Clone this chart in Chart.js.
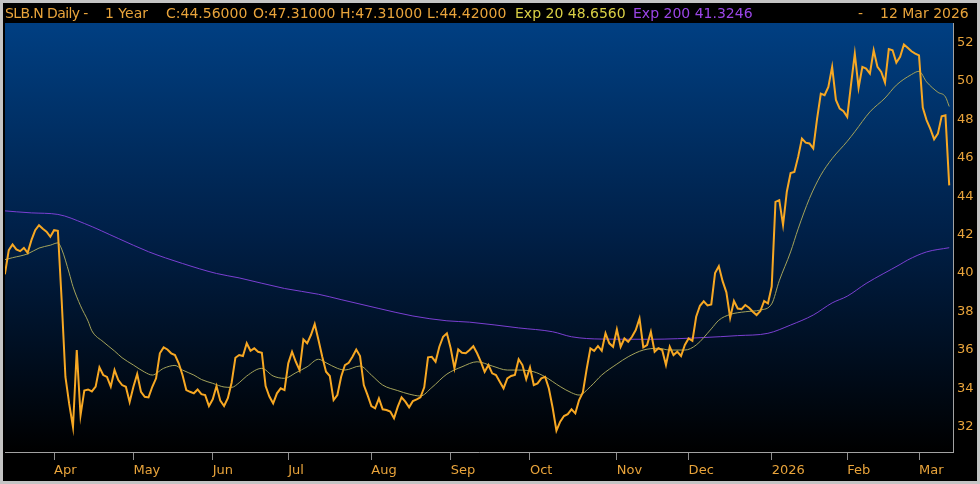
<!DOCTYPE html>
<html>
<head>
<meta charset="utf-8">
<script src="https://cdn.jsdelivr.net/npm/chart.js@4.4.1/dist/chart.umd.min.js"></script>
<style>
  html, body { margin: 0; padding: 0; background: #000; }
  #wrap { position: relative; width: 980px; height: 484px; background: #000; overflow: hidden; }
  #frame { position: absolute; left: 0; top: 0; width: 980px; height: 484px; box-sizing: border-box;
           border: 3px solid #c4c4c4; pointer-events: none; }
  #head { position: absolute; top: 4px; left: 0; width: 980px; height: 19px;
          font: 14px "DejaVu Sans", sans-serif; line-height: 19px; white-space: pre; }
  #head span { position: absolute; top: 0; }
  #head span.tight { letter-spacing: -0.6px; }
  .o { color: #e9a43b; }
  .e20 { color: #d9cf45; }
  .e200 { color: #9a45e6; }
</style>
</head>
<body>
<div id="wrap">
  <canvas id="myChart" width="980" height="484"></canvas>
  <div id="head">
    <span class="o tight" style="left:5px">SLB.N Daily -</span>
    <span class="o" style="left:105px">1 Year</span>
    <span class="o" style="left:166px">C:44.56000</span>
    <span class="o" style="left:253px">O:47.31000</span>
    <span class="o" style="left:340px">H:47.31000</span>
    <span class="o" style="left:427px">L:44.42000</span>
    <span class="e20" style="left:515px">Exp 20 48.6560</span>
    <span class="e200" style="left:633px">Exp 200 41.3246</span>
    <span class="o" style="left:858px">-</span>
    <span class="o" style="left:880px">12 Mar 2026</span>
  </div>
  <div id="frame"></div>
</div>
<script>
// daily closes, one per trading day, 12 Mar 2025 .. 12 Mar 2026
const closes = [
  39.8, 39.98, 41.19, 41.49, 41.23, 41.14, 41.31, 41.05, 41.71, 42.23, 42.49, 42.3, 42.15, 41.89,
  42.23, 42.2, 38.6, 34.6, 33.2, 32.0, 36.0, 32.6, 33.9, 33.95, 33.85, 34.1, 35.1, 34.7, 34.6, 34.1,
  34.96, 34.44, 34.18, 34.09, 33.3,
  34.09, 34.75, 33.83, 33.57, 33.54, 34.09, 34.53, 35.83, 36.14, 36.03, 35.83, 35.74, 35.31, 34.7,
  33.92, 33.83, 33.75, 33.95, 33.71, 33.66, 33.09,
  33.44, 34.13, 33.37, 33.09, 33.5, 34.3, 35.6, 35.74, 35.69, 36.35, 35.96, 36.09, 35.91, 35.86,
  34.13, 33.58, 33.23, 33.75, 34.01, 33.92,
  35.31, 35.91, 35.39, 34.96, 36.55, 36.35, 36.78, 37.35, 36.52, 35.65, 34.87, 34.65, 33.4, 33.66,
  34.61, 35.22, 35.34, 35.65, 36.03, 35.69, 34.18, 33.66,
  33.09, 32.97, 33.49, 32.92, 32.88, 32.8, 32.45, 33.06, 33.54, 33.32, 33.02, 33.35, 33.44, 33.54,
  34.06, 35.62, 35.65, 35.39, 36.17, 36.69, 36.87,
  36.09, 35.05, 36.03, 35.86, 35.83, 36.0, 36.2, 35.83, 35.39, 34.87, 35.22, 34.79, 34.7, 34.35,
  34.01, 34.53, 34.65, 34.7, 35.52, 35.22, 34.48,
  35.1, 34.18, 34.27, 34.53, 34.61, 34.0, 33.0, 31.81, 32.28, 32.57, 32.67, 32.92, 32.71, 33.4,
  33.8, 35.0, 36.09, 35.96, 36.21, 35.96, 36.87, 36.35, 36.17,
  37.07, 36.17, 36.6, 36.43, 36.69, 37.04, 37.64, 36.14, 36.26, 36.95, 35.91, 36.09, 36.0, 35.22,
  36.17, 35.74, 35.91, 35.69, 36.26,
  36.6, 36.48, 37.73, 38.3, 38.53, 38.32, 38.37, 40.0, 40.36, 39.58, 39.0, 37.68, 38.55, 38.16,
  38.13, 38.34, 38.2, 37.99, 37.82, 38.03, 38.55, 38.42,
  39.3, 43.7, 43.79, 42.5, 44.23, 45.2, 45.26, 46.04, 46.99, 46.78, 46.74, 46.48, 48.0, 49.33,
  49.25, 49.68, 50.72, 49.0, 48.55, 48.42,
  48.12, 49.8, 51.41, 49.63, 50.72, 50.63, 50.37, 51.58, 50.72, 50.46, 49.9, 51.64, 51.58,
  50.94, 51.24, 51.88, 51.71, 51.53, 51.41,
  51.32, 48.6, 47.95, 47.5, 46.96, 47.25, 48.15, 48.2, 44.56
];

// exponential averages at these trading days
const ema20Days = [0, 3, 7, 10, 13, 15, 16, 18, 19, 21, 23, 24, 27, 30, 32, 35, 38, 40, 43, 46, 48, 51,
  53, 56, 59, 61, 63, 65, 69, 72, 75, 78, 81, 84, 86, 89, 91, 95, 98, 101, 105, 108, 111, 114, 118,
  122, 126, 130, 134, 137, 141, 144, 148, 151, 153, 156, 159, 163, 166, 170, 174, 177, 181, 184,
  188, 190, 193, 197, 201, 204, 206, 209, 211, 214, 217, 220, 224, 226, 230, 234, 237, 241, 243,
  245, 248, 250, 251];
const ema20 = [40.65, 40.8, 41.0, 41.3, 41.45, 41.57, 41.25, 40.0, 39.3, 38.3, 37.5, 37.0, 36.43,
  35.95, 35.6, 35.22, 34.85, 34.7, 35.05, 35.2, 34.96, 34.7, 34.47, 34.27, 34.08, 34.06, 34.3,
  34.65, 35.05, 34.65, 34.53, 34.82, 35.13, 35.52, 35.34, 35.05, 34.96, 35.17, 34.7, 34.18, 33.89,
  33.71, 33.61, 34.05, 34.75, 35.13, 35.39, 35.17, 34.96, 34.96, 34.87, 34.61, 34.1, 33.78, 33.66,
  34.1, 34.7, 35.27, 35.65, 36.0, 36.09, 36.0, 36.0, 36.26, 37.1, 37.55, 37.85, 37.99, 38.08, 38.4,
  39.6, 41.1, 42.3, 43.88, 45.09, 45.95, 46.85, 47.35, 48.38, 49.1, 49.77, 50.32, 50.49, 49.94,
  49.4, 49.16, 48.66];

const ema200Days = [0, 8, 15, 22, 31, 39, 48, 57, 63, 75, 84, 90, 100, 109, 118, 124, 137, 146, 151,
  159, 172, 186, 195, 203, 209, 215, 220, 224, 229, 238, 240, 245, 251];
const ema200 = [43.25, 43.13, 43.05, 42.58, 41.8, 41.11, 40.5, 39.98, 39.75, 39.2, 38.9, 38.62,
  38.16, 37.77, 37.52, 37.45, 37.15, 36.95, 36.69, 36.57, 36.56, 36.65, 36.75, 36.87, 37.3, 37.82,
  38.45, 38.8, 39.46, 40.45, 40.68, 41.1, 41.32];

// first trading day of each month
const monthDays = [14, 35, 56, 76, 98, 119, 140, 163, 182, 204, 224, 243];
const monthLabels = ['Apr', 'May', 'Jun', 'Jul', 'Aug', 'Sep', 'Oct', 'Nov', 'Dec', '2026', 'Feb', 'Mar'];
const priceTicks = [32, 34, 36, 38, 40, 42, 44, 46, 48, 50, 52];

const labelColor = '#e9a43b';
const axisFont = { family: 'DejaVu Sans', size: 13 };

const backdrop = {
  id: 'backdrop',
  beforeDraw(chart) {
    const { ctx, chartArea: a } = chart;
    const g = ctx.createLinearGradient(0, a.top, 0, a.bottom);
    g.addColorStop(0, '#003f82');
    g.addColorStop(0.5, '#001f46');
    g.addColorStop(1, '#000000');
    ctx.save();
    ctx.fillStyle = g;
    ctx.fillRect(a.left, a.top, a.right - a.left, a.bottom - a.top);
    ctx.restore();
  }
};

const ctx = document.getElementById('myChart').getContext('2d');
const myChart = new Chart(ctx, {
  type: 'line',
  data: {
    datasets: [
      {
        label: 'SLB.N',
        data: closes.map((v, i) => ({ x: i, y: v })),
        borderColor: '#f7a823',
        borderWidth: 2,
        pointRadius: 0,
        order: 0
      },
      {
        label: 'Exp 20',
        data: ema20Days.map((d, k) => ({ x: d, y: ema20[k] })),
        borderColor: '#a4a35a',
        borderWidth: 1,
        pointRadius: 0,
        cubicInterpolationMode: 'monotone',
        order: 1
      },
      {
        label: 'Exp 200',
        data: ema200Days.map((d, k) => ({ x: d, y: ema200[k] })),
        borderColor: '#7a3fd2',
        borderWidth: 1,
        pointRadius: 0,
        cubicInterpolationMode: 'monotone',
        order: 2
      }
    ]
  },
  options: {
    responsive: false,
    animation: false,
    devicePixelRatio: 1,
    layout: { padding: { left: 5, top: 23, right: 0, bottom: 0 } },
    plugins: { legend: { display: false }, tooltip: { enabled: false } },
    scales: {
      x: {
        type: 'linear',
        min: 1,
        max: 252,
        afterBuildTicks: (s) => { s.ticks = monthDays.map(v => ({ value: v })); },
        afterFit: (s) => { s.height = 32; },
        ticks: {
          callback: (v, i) => monthLabels[i],
          align: 'start',
          autoSkip: false,
          maxRotation: 0,
          color: labelColor,
          font: axisFont,
          padding: 3
        },
        grid: { drawOnChartArea: false, tickLength: 8, color: '#8e8e8e' },
        border: { color: '#a2a2a2' }
      },
      y: {
        position: 'right',
        min: 30.7,
        max: 53,
        afterBuildTicks: (s) => { s.ticks = priceTicks.map(v => ({ value: v })); },
        afterFit: (s) => { s.width = 27; },
        ticks: { color: labelColor, font: axisFont, padding: 4, callback: (v) => String(v) },
        grid: { drawOnChartArea: false, drawTicks: false },
        border: { color: '#a2a2a2' }
      }
    }
  },
  plugins: [backdrop]
});
</script>
</body>
</html>
